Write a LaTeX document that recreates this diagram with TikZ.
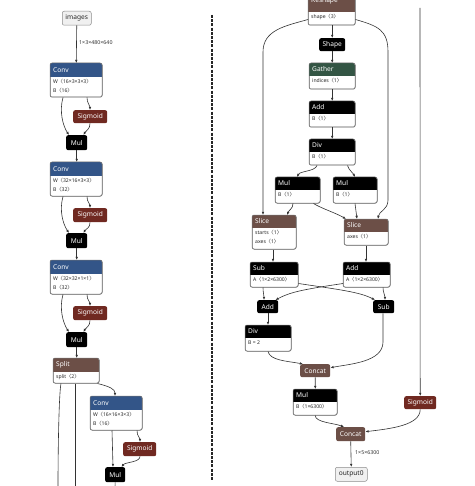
\documentclass[tikz,border=0pt]{standalone}
\usepackage{fontspec}
\setmainfont{Noto Sans}
\newfontfamily\cjkf{Noto Sans CJK SC}
\usetikzlibrary{arrows.meta}
\definecolor{layer}{RGB}{51,85,136}
\definecolor{act}{RGB}{112,41,33}
\definecolor{shp}{RGB}{108,79,71}
\definecolor{trn}{RGB}{51,85,68}
\newcommand\lb{{\cjkf 〈}}
\newcommand\rb{{\cjkf 〉}}
\tikzset{
  edge/.style={draw=black!80, line width=0.6pt, -{Latex[length=3.2pt,width=2.6pt]}},
  plainline/.style={draw=black!80, line width=0.6pt},
  frame/.style={draw=black!55, fill=white, line width=0.5pt, rounded corners=2pt, inner sep=0pt, anchor=north west},
  ttl/.style={text=white, font=\fontsize{6.6}{7.5}\selectfont, inner sep=0pt, anchor=west},
  bdy/.style={text=black!85, font=\fontsize{5.1}{8.5}\selectfont, inner sep=0pt, anchor=north west, align=left},
  pill/.style={rounded corners=2pt, inner sep=0pt, text=white, font=\fontsize{6.6}{7.5}\selectfont, anchor=north west},
  ionode/.style={fill=black!6, draw=black!45, line width=0.5pt, text=black!85},
  elabel/.style={font=\fontsize{5.3}{6.5}\selectfont, text=black!80, inner sep=0pt, anchor=west},
}
% name, x1, y1, x2, y2, yheader, colour, title, body
\newcommand\opbox[9]{%
  \node[frame, minimum width={(#4-#2)*1pt}, minimum height={(#5-#3)*1pt}] (#1) at (#2,#3) {};
  \begin{scope}
    \clip[rounded corners=2pt] (#2,#3) rectangle (#4,#5);
    \fill[#7] (#2,#3) rectangle (#4,#6);
  \end{scope}
  \draw[draw=black!55, line width=0.5pt, rounded corners=2pt] (#2,#3) rectangle (#4,#5);
  \node[ttl] (#1-t) at ({#2+3},{(#3+#6)/2}) {#8};
  \node[bdy] (#1-b) at ({#2+3},{#6+2.2}) {#9};
}
% name, x1, y1, x2, y2, style, text
\newcommand\pillbox[7]{%
  \node[pill, #6, minimum width={(#4-#2)*1pt}, minimum height={(#5-#3)*1pt}] (#1) at (#2,#3) {#7};
}
\begin{document}
\begin{tikzpicture}[x=1pt,y=-1pt]
\fill[white] (0,0) rectangle (474,486);
\clip (0,0) rectangle (474,486);
\useasboundingbox (0,0) rectangle (474,486);

% ---------------- left column ----------------
\pillbox{images}{62}{11}{91}{25}{ionode}{images}
\node[elabel] (lab1) at (79,43) {1×3×480×640};

\opbox{conv1}{50}{63}{102}{97}{77}{layer}{Conv}{\textbf{W}\lb16×3×3×3\rb\\\textbf{B}\lb16\rb}
\pillbox{sig1}{73}{110}{107}{123}{fill=act}{Sigmoid}
\pillbox{mul1}{66}{135}{87}{150}{fill=black}{Mul}

\opbox{conv2}{50}{162}{102}{196}{176}{layer}{Conv}{\textbf{W}\lb32×16×3×3\rb\\\textbf{B}\lb32\rb}
\pillbox{sig2}{73}{208}{107}{222}{fill=act}{Sigmoid}
\pillbox{mul2}{66}{233}{87}{248}{fill=black}{Mul}

\opbox{conv3}{50}{260}{102}{294}{274}{layer}{Conv}{\textbf{W}\lb32×32×1×1\rb\\\textbf{B}\lb32\rb}
\pillbox{sig3}{73}{306}{107}{320}{fill=act}{Sigmoid}
\pillbox{mul3}{66}{332}{87}{347}{fill=black}{Mul}

\opbox{split}{53}{358}{99}{383}{372}{shp}{Split}{\textbf{split}\lb2\rb}

\opbox{conv4}{90}{396}{142}{430}{410}{layer}{Conv}{\textbf{W}\lb16×16×3×3\rb\\\textbf{B}\lb16\rb}
\pillbox{sig4}{123}{442}{156}{456}{fill=act}{Sigmoid}
\pillbox{mul4}{105}{467}{125}{482}{fill=black}{Mul}

\coordinate (bl1) at (58,487);
\coordinate (bl2) at (75,487);
\coordinate (bl3) at (115,487);

\draw[edge] (images.south) -- (conv1.north);
\foreach \c/\s/\m/\n in {conv1/sig1/mul1/conv2, conv2/sig2/mul2/conv3, conv3/sig3/mul3/split}{
  \draw[edge] ([xshift=13pt]\c.south west) .. controls +(-4,14) and +(-6,-9) .. ([xshift=3pt]\m.north west);
  \draw[edge] ([xshift=37pt]\c.south west) .. controls +(0,6) and +(0,-5) .. ([xshift=17pt]\s.north west);
  \draw[edge] ([xshift=17pt]\s.south west) .. controls +(0,6) and +(3,-5) .. ([xshift=-4pt]\m.north east);
  \draw[edge] (\m.south) -- (\n.north -| \m.south);
}
\draw[plainline] ([xshift=8pt]split.south west) .. controls +(-2,10) and +(0,-40) .. (bl1);
\draw[plainline] ([xshift=22pt]split.south west) -- (bl2);
\draw[edge] ([xshift=-2pt]split.south east) .. controls +(12,3) and +(0,-7) .. ([xshift=25pt]conv4.north west);
\draw[edge] ([xshift=22pt]conv4.south west) -- ([xshift=8pt]mul4.north west);
\draw[edge] ([xshift=47pt]conv4.south west) .. controls +(0,6) and +(0,-5) .. ([xshift=17pt]sig4.north west);
\draw[edge] ([xshift=17pt]sig4.south west) .. controls +(0,6) and +(4,-5) .. ([xshift=-4pt]mul4.north east);
\draw[plainline] (mul4.south) -- (bl3);

% ---------------- separator ----------------
\coordinate (sepA) at (212,15);
\coordinate (sepB) at (212,480);
\draw[line width=1.5pt, dash pattern=on 3pt off 1.2pt, black!85] (sepA) -- (sepB);

% ---------------- right column ----------------
\opbox{reshape}{308}{-10}{355}{25}{12}{shp}{Reshape}{\textbf{shape}\lb3\rb}
\pillbox{shape}{319}{38}{345}{51}{fill=black}{Shape}
\opbox{gather}{309}{63}{355}{89}{76}{trn}{Gather}{\textbf{indices}\lb1\rb}
\opbox{add1}{309}{101}{355}{127}{114}{black}{Add}{\textbf{B}\lb1\rb}
\opbox{div1}{309}{139}{355}{165}{152}{black}{Div}{\textbf{B}\lb1\rb}
\opbox{mulL}{275}{177}{320}{203}{190}{black}{Mul}{\textbf{B}\lb1\rb}
\opbox{mulR}{333}{177}{377}{203}{190}{black}{Mul}{\textbf{B}\lb1\rb}
\opbox{sliceL}{252}{215}{296}{249}{228}{shp}{Slice}{\textbf{starts}\lb1\rb\\\textbf{axes}\lb1\rb}
\opbox{sliceR}{344}{219}{388}{245}{232}{shp}{Slice}{\textbf{axes}\lb1\rb}
\opbox{subL}{250}{262}{298}{287}{275}{black}{Sub}{\textbf{A}\lb1×2×6300\rb}
\opbox{addR}{343}{262}{390}{287}{275}{black}{Add}{\textbf{A}\lb1×2×6300\rb}
\pillbox{addS}{257}{300}{278}{313}{fill=black}{Add}
\pillbox{subS}{373}{300}{394}{313}{fill=black}{Sub}
\opbox{div2}{245}{325}{291}{351}{338}{black}{Div}{\textbf{B} = 2}
\pillbox{concat1}{300}{364}{330}{377}{fill=shp}{Concat}
\opbox{mul5}{293}{389}{337}{415}{402}{black}{Mul}{\textbf{B}\lb1×6300\rb}
\pillbox{sigR}{404}{396}{436}{409}{fill=act}{Sigmoid}
\pillbox{concat2}{336}{427}{365}{441}{fill=shp}{Concat}
\pillbox{output0}{335}{467}{367}{481}{ionode}{output0}
\node[elabel] (lab2) at (355,453) {1×5×6300};

\coordinate (rtop) at (420,8);

\draw[edge] ([yshift=6pt]reshape.south west) .. controls (285,26) and (263,30) .. (263,52) -- ([xshift=11pt]sliceL.north west);
\draw[edge] ([yshift=6pt]reshape.south east) .. controls (378,26) and (388,30) .. (388,52) -- (388,200) .. controls (388,210) and (379,211) .. ([xshift=34pt]sliceR.north west);
\draw[edge] (reshape.south -| shape.north) -- (shape.north);
\draw[edge] (shape.south) -- (gather.north -| shape.south);
\draw[edge] (gather.south -| shape.south) -- (add1.north -| shape.south);
\draw[edge] (add1.south -| shape.south) -- (div1.north -| shape.south);
\draw[edge] ([xshift=8pt]div1.south west) .. controls +(-2,6) and +(3,-6) .. ([xshift=22pt]mulL.north west);
\draw[edge] ([xshift=-8pt]div1.south east) .. controls +(2,6) and +(-3,-6) .. ([xshift=22pt]mulR.north west);
\draw[edge] ([xshift=18pt]mulL.south west) .. controls +(0,5) and +(2,-5) .. ([xshift=35pt]sliceL.north west);
\draw[edge] ([xshift=-7pt]mulL.south east) .. controls +(8,5) and +(-10,-6) .. ([xshift=2pt]sliceR.north west);
\draw[edge] ([xshift=22pt]mulR.south west) -- ([xshift=13pt]sliceR.north west);
\draw[edge] ([xshift=21pt]sliceL.south west) -- ([xshift=23pt]subL.north west);
\draw[edge] ([xshift=22pt]sliceR.south west) -- ([xshift=23pt]addR.north west);
\draw[edge] ([xshift=13pt]subL.south west) .. controls +(0,5) and +(0,-5) .. ([xshift=7pt]addS.north west);
\draw[edge] ([yshift=4pt]subL.south east) .. controls +(40,6) and +(-15,-8) .. ([xshift=2pt]subS.north west);
\draw[edge] ([yshift=4pt]addR.south west) .. controls +(-40,6) and +(15,-8) .. ([xshift=-3pt]addS.north east);
\draw[edge] ([xshift=40pt]addR.south west) .. controls +(0,5) and +(0,-5) .. ([xshift=12pt]subS.north west);
\draw[edge] ([xshift=11pt]addS.south west) -- ([xshift=23pt]div2.north west);
\draw[edge] ([xshift=23pt]div2.south west) .. controls +(2,9) and +(-16,-3) .. ([xshift=3pt]concat1.north west);
\draw[edge] ([xshift=10pt]subS.south west) -- (383,342) .. controls (383,362) and (350,364) .. ([yshift=3pt]concat1.east);
\draw[edge] (concat1.south) -- (mul5.north);
\draw[edge] (mul5.south) .. controls +(0,7) and +(-10,-4) .. ([xshift=8pt]concat2.north west);
\draw[edge] (rtop) -- (sigR.north);
\draw[edge] (sigR.south) .. controls +(0,16) and +(25,-3) .. ([yshift=2.5pt]concat2.east);
\draw[edge] (concat2.south) -- (output0.north);
\end{tikzpicture}
\end{document}
